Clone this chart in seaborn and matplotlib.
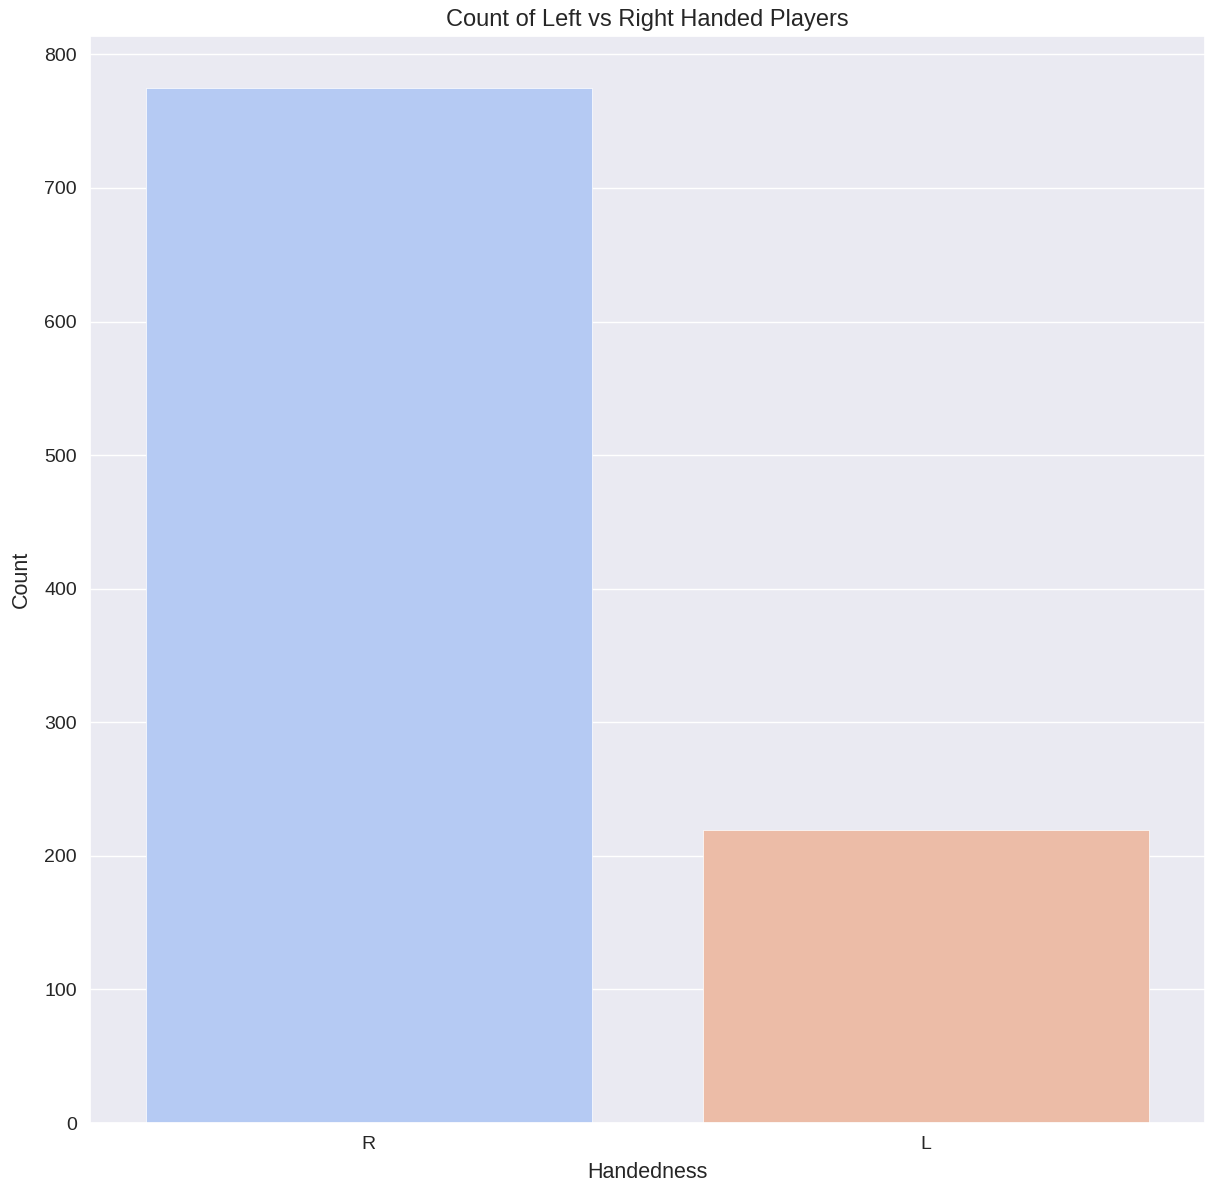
import matplotlib
matplotlib.use("Agg")
import matplotlib.pyplot as plt
import seaborn as sns
import pandas as pd

# ── Data ─────────────────────────────────────────────────────────────
hands = ["R", "L"]
counts = [775, 219]

df = pd.DataFrame({"Handedness": hands, "Count": counts})

sns.set_theme(style="darkgrid")
plt.rcParams["font.family"] = ["Liberation Sans", "DejaVu Sans"]

fig = plt.figure(figsize=(12.3, 11.92), dpi=100)
ax = fig.add_axes([90 / 1230, 1 - 1123 / 1192, 1115 / 1230, 1087 / 1192])

sns.barplot(
    data=df,
    x="Handedness",
    y="Count",
    hue="Handedness",
    palette="coolwarm",
    legend=False,
    linewidth=0.5,
    ax=ax,
)
ax.set_title("Count of Left vs Right Handed Players", fontsize=17, pad=7)
ax.set_xlabel("Handedness", fontsize=15.5, labelpad=6)
ax.set_ylabel("Count", fontsize=15.5, labelpad=9)
ax.tick_params(labelsize=14)

fig.savefig("out.png", dpi=100)
